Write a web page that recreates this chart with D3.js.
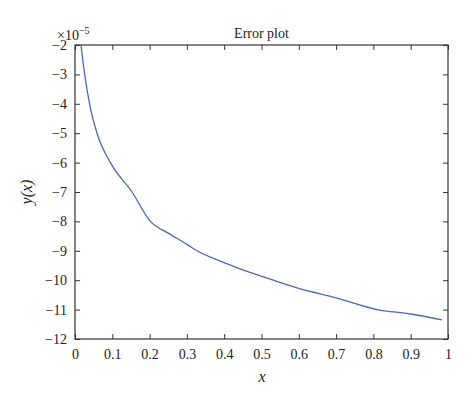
<!DOCTYPE html>
<html><head><meta charset="utf-8">
<script src="https://cdn.jsdelivr.net/npm/d3@7"></script>
<style>body{margin:0;background:#fff}text{font-family:"Liberation Serif",serif;fill:#222}</style>
</head><body>
<script>
var xs = [0.016, 0.026, 0.039, 0.059, 0.095, 0.153, 0.202, 0.25, 0.3, 0.327, 0.4, 0.45, 0.532, 0.6, 0.7, 0.81, 0.9, 0.984];
var ys = [-2, -3, -4, -5, -6, -7, -8, -8.4, -8.78, -9, -9.4, -9.65, -10, -10.28, -10.6, -11, -11.15, -11.35];
var xTicks = [0,0.1,0.2,0.3,0.4,0.5,0.6,0.7,0.8,0.9,1];
var yTicks = [-2,-3,-4,-5,-6,-7,-8,-9,-10,-11,-12];

var w = 474, h = 402;
var pl = 75, pr = 448, pt = 45, pb = 339;

var svg = d3.select('body').append('svg').attr('width', w).attr('height', h);

var x = d3.scaleLinear().domain([0,1]).range([pl,pr]);
var y = d3.scaleLinear().domain([-12,-2]).range([pb,pt]);

var fmt = function(d){ return String(d).replace('-', '\u2212'); };

svg.append('g').attr('transform','translate(0,'+pb+')')
  .call(d3.axisBottom(x).tickValues(xTicks).tickSizeInner(-5).tickSizeOuter(0).tickPadding(10).tickFormat(fmt));
svg.append('g').attr('transform','translate('+pl+',0)')
  .call(d3.axisLeft(y).tickValues(yTicks).tickSizeInner(-5).tickSizeOuter(0).tickPadding(8).tickFormat(fmt));
svg.append('g').attr('transform','translate(0,'+pt+')')
  .call(d3.axisTop(x).tickValues(xTicks).tickSizeInner(-5).tickSizeOuter(0).tickFormat(''));
svg.append('g').attr('transform','translate('+pr+',0)')
  .call(d3.axisRight(y).tickValues(yTicks).tickSizeInner(-5).tickSizeOuter(0).tickFormat(''));

svg.selectAll('.domain').remove();
svg.selectAll('.tick line').attr('stroke','#333');
svg.selectAll('.tick text').style('font-size','14px').style('font-family','"Liberation Serif",serif').attr('fill','#222');

svg.append('rect').attr('x',pl).attr('y',pt).attr('width',pr-pl).attr('height',pb-pt)
  .attr('fill','none').attr('stroke','#333').attr('stroke-width',1.2);

var line = d3.line().x(function(d,i){return x(xs[i]);}).y(function(d){return y(d);}).curve(d3.curveMonotoneX);
svg.append('path').datum(ys).attr('d', line).attr('fill','none').attr('stroke','#4a6aaf').attr('stroke-width',1.3);

svg.append('text').attr('x',(pl+pr)/2).attr('y',38).attr('text-anchor','middle').style('font-size','14px').text('Error plot');
var ex = svg.append('text').attr('x',57).attr('y',40).style('font-size','14px');
ex.append('tspan').text('\u00d710');
ex.append('tspan').attr('dy',-6).style('font-size','10px').text('\u22125');

svg.append('text').attr('x',262).attr('y',382).attr('text-anchor','middle').style('font-size','16px').style('font-style','italic').text('x');
svg.append('text').attr('transform','translate(32,'+(pt+pb)/2+') rotate(-90)').attr('text-anchor','middle')
  .style('font-size','16px').style('font-style','italic').text('y(x)');
</script>
</body></html>
